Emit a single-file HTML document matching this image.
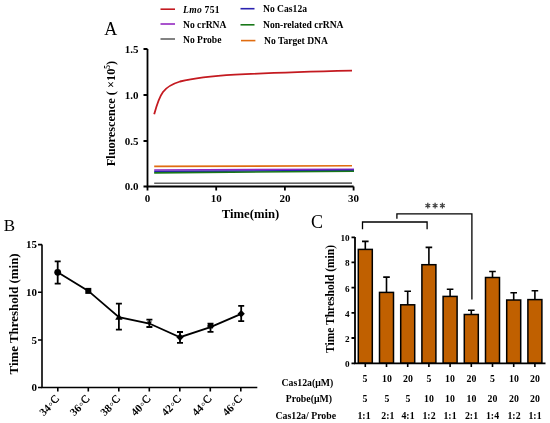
<!DOCTYPE html>
<html><head><meta charset="utf-8">
<style>
html,body{margin:0;padding:0;background:#fff;width:550px;height:423px;overflow:hidden}
svg{display:block;filter:blur(0.3px);font-family:"Liberation Serif",serif}
.b{font-weight:bold}
</style></head><body>
<svg width="550" height="423" viewBox="0 0 550 423">
<!-- ===== Panel A ===== -->
<text x="104.3" y="34.6" font-size="18">A</text>
<!-- legend -->
<g stroke-width="1.6" fill="none">
<line x1="160.5" y1="9.2" x2="175" y2="9.2" stroke="#c41a20"/>
<line x1="160.5" y1="24" x2="175" y2="24" stroke="#9428c0"/>
<line x1="160.5" y1="39" x2="175" y2="39" stroke="#626262"/>
<line x1="240.5" y1="8.7" x2="254.5" y2="8.7" stroke="#2a22b0"/>
<line x1="240.5" y1="24.8" x2="254.5" y2="24.8" stroke="#187818"/>
<line x1="241" y1="40.6" x2="255.4" y2="40.6" stroke="#e06c10"/>
</g>
<g class="b" font-size="9.6">
<text x="183" y="13"><tspan font-style="italic" letter-spacing="0.35">Lmo</tspan> <tspan letter-spacing="0.3">751</tspan></text>
<text x="183" y="27.8">No crRNA</text>
<text x="183" y="42.8">No Probe</text>
<text x="263" y="12.4">No Cas12a</text>
<text x="263" y="28.2">Non-related crRNA</text>
<text x="264" y="44.2">No Target DNA</text>
</g>
<!-- axes A -->
<g stroke="#000" stroke-width="1.8" fill="none">
<path d="M147.5 49 V186.5 H353.6"/>
<path d="M143.5 49 H147.5 M143.5 95 H147.5 M143.5 141 H147.5 M143.5 186.5 H147.5"/>
<path d="M147.5 186.5 V190.5 M216.2 186.5 V190.5 M284.9 186.5 V190.5 M353.6 186.5 V190.5"/>
</g>
<g class="b" font-size="11" text-anchor="end">
<text x="138.5" y="52.5">1.5</text>
<text x="138.5" y="98.5">1.0</text>
<text x="138.5" y="144.5">0.5</text>
<text x="138.5" y="190">0.0</text>
</g>
<g class="b" font-size="11" text-anchor="middle">
<text x="147.5" y="201.5">0</text>
<text x="216.2" y="201.5">10</text>
<text x="284.9" y="201.5">20</text>
<text x="353.6" y="201.5">30</text>
</g>
<text class="b" x="250.5" y="217.8" font-size="12.7" text-anchor="middle">Time(min)</text>
<text class="b" font-size="12.3" transform="translate(115.4 166.3) rotate(-90)">Fluorescence ( ×10<tspan dy="-5" font-size="7.5">5</tspan><tspan dy="5">)</tspan></text>
<!-- data lines A -->
<g fill="none" stroke-width="1.6">
<line x1="154.2" y1="166.4" x2="352" y2="165.8" stroke="#e06c10"/>
<line x1="154.2" y1="170" x2="354" y2="169.3" stroke="#9428c0"/>
<line x1="154.2" y1="171.6" x2="354" y2="170.3" stroke="#2a22b0"/>
<line x1="154.2" y1="172.9" x2="354" y2="171.2" stroke="#187818"/>
<line x1="154.2" y1="183.3" x2="352" y2="183.1" stroke="#626262"/>
<path d="M154.2 114.3 C157 104 160 96 163 92 C167 86.5 172 84 180 81.5 C195 78 215 76 235 74.7 C270 72.8 310 71.6 352 70.6" stroke="#c41a20" stroke-width="1.8"/>
</g>

<!-- ===== Panel B ===== -->
<text x="3.8" y="230.8" font-size="17">B</text>
<g stroke="#000" stroke-width="1.6" fill="none">
<path d="M42 244.6 V387.5 H257.3"/>
<path d="M38 244.6 H42 M38 292.3 H42 M38 340 H42 M38 387.5 H42"/>
<path d="M57.8 387.5 V391.5 M88.3 387.5 V391.5 M118.8 387.5 V391.5 M149.3 387.5 V391.5 M179.8 387.5 V391.5 M210.3 387.5 V391.5 M240.8 387.5 V391.5"/>
</g>
<g class="b" font-size="11" text-anchor="end">
<text x="37" y="248.2">15</text>
<text x="37" y="296">10</text>
<text x="37" y="343.8">5</text>
<text x="37" y="391.4">0</text>
</g>
<text class="b" font-size="12.9" transform="translate(18 374.4) rotate(-90)">Time Threshold (min)</text>
<g class="b" font-size="11" text-anchor="end">
<text transform="translate(60.4 400) rotate(-45)">34<tspan font-weight="normal" font-size="12" dx="0.6" dy="-0.3">◦</tspan><tspan font-weight="normal" dx="0.3" dy="-0.7" stroke="#000" stroke-width="0.35">C</tspan></text>
<text transform="translate(90.9 400) rotate(-45)">36<tspan font-weight="normal" font-size="12" dx="0.6" dy="-0.3">◦</tspan><tspan font-weight="normal" dx="0.3" dy="-0.7" stroke="#000" stroke-width="0.35">C</tspan></text>
<text transform="translate(121.4 400) rotate(-45)">38<tspan font-weight="normal" font-size="12" dx="0.6" dy="-0.3">◦</tspan><tspan font-weight="normal" dx="0.3" dy="-0.7" stroke="#000" stroke-width="0.35">C</tspan></text>
<text transform="translate(151.9 400) rotate(-45)">40<tspan font-weight="normal" font-size="12" dx="0.6" dy="-0.3">◦</tspan><tspan font-weight="normal" dx="0.3" dy="-0.7" stroke="#000" stroke-width="0.35">C</tspan></text>
<text transform="translate(182.4 400) rotate(-45)">42<tspan font-weight="normal" font-size="12" dx="0.6" dy="-0.3">◦</tspan><tspan font-weight="normal" dx="0.3" dy="-0.7" stroke="#000" stroke-width="0.35">C</tspan></text>
<text transform="translate(212.9 400) rotate(-45)">44<tspan font-weight="normal" font-size="12" dx="0.6" dy="-0.3">◦</tspan><tspan font-weight="normal" dx="0.3" dy="-0.7" stroke="#000" stroke-width="0.35">C</tspan></text>
<text transform="translate(243.4 400) rotate(-45)">46<tspan font-weight="normal" font-size="12" dx="0.6" dy="-0.3">◦</tspan><tspan font-weight="normal" dx="0.3" dy="-0.7" stroke="#000" stroke-width="0.35">C</tspan></text>
</g>
<!-- data B -->
<g stroke="#000" stroke-width="1.8" fill="none">
<polyline points="57.7,272.3 88.3,290.9 118.9,317.2 149.4,323.5 180,337.2 210.5,327.1 241.2,313.8"/>
<path d="M57.7 261.3 V283.6 M54.7 261.3 H60.7 M54.7 283.6 H60.7"/>
<path d="M118.9 303.6 V329.6 M115.9 303.6 H121.9 M115.9 329.6 H121.9"/>
<path d="M149.4 319.7 V327 M146.4 319.7 H152.4 M146.4 327 H152.4"/>
<path d="M180 332 V342.8 M177 332 H183 M177 342.8 H183"/>
<path d="M210.5 323.6 V331.8 M207.5 323.6 H213.5 M207.5 331.8 H213.5"/>
<path d="M241.2 305.9 V321.2 M238.2 305.9 H244.2 M238.2 321.2 H244.2"/>
</g>
<g fill="#000">
<circle cx="57.7" cy="272.3" r="3.4"/>
<rect x="85.3" y="287.9" width="6" height="6"/>
<path d="M118.9 313.6 L122.6 319.8 L115.2 319.8Z"/>
<path d="M149.4 325.8 L151.9 321.6 L146.9 321.6Z"/>
<path d="M180 333.4 L183.6 337.2 L180 341 L176.4 337.2Z"/>
<path d="M207.2 326 L208.4 323.4 L212.8 323.4 L214 326 L212.8 328.5 L208.4 328.5Z"/>
<path d="M241.2 310 L244.8 313.8 L241.2 317.6 L237.6 313.8Z"/>
</g>

<!-- ===== Panel C ===== -->
<text x="311" y="227.6" font-size="18">C</text>
<g stroke="#000" stroke-width="1.3" fill="none">
<path d="M362.5 229.3 V222 H427.1 V229.3"/>
<path d="M396.9 218.8 V213.9 H471.9 V299.4"/>
</g>
<g stroke="#444" stroke-width="1.3" fill="none">
<path id="ast" d="M427.8 202.8 V208.4 M425.4 204.2 L430.2 207 M425.4 207 L430.2 204.2"/>
<path d="M435.1 202.8 V208.4 M432.7 204.2 L437.5 207 M432.7 207 L437.5 204.2"/>
<path d="M442.4 202.8 V208.4 M440 204.2 L444.8 207 M440 207 L444.8 204.2"/>
</g>
<g stroke="#000" stroke-width="1.8" fill="none">
<path d="M355 237.1 V363.4 H545.5"/>
<path d="M351.5 237.3 H355 M351.5 262.4 H355 M351.5 287.6 H355 M351.5 312.8 H355 M351.5 338 H355 M351.5 363.4 H355"/>
</g>
<g class="b" font-size="9.2" text-anchor="end">
<text x="349.6" y="240.9">10</text>
<text x="349.6" y="266.3">8</text>
<text x="349.6" y="291.6">6</text>
<text x="349.6" y="316.8">4</text>
<text x="349.6" y="342">2</text>
<text x="349.6" y="367">0</text>
</g>
<text class="b" font-size="11.5" transform="translate(334 353) rotate(-90)">Time Threshold (min)</text>
<!-- bars -->
<g fill="#c06000" stroke="#000" stroke-width="1.5">
<rect x="358.3" y="249.4" width="14" height="113.6"/>
<rect x="379.5" y="292.4" width="14" height="70.6"/>
<rect x="400.7" y="304.8" width="14" height="58.2"/>
<rect x="421.9" y="264.7" width="14" height="98.3"/>
<rect x="443.1" y="296.4" width="14" height="66.6"/>
<rect x="464.3" y="314.5" width="14" height="48.5"/>
<rect x="485.5" y="277.5" width="14" height="85.5"/>
<rect x="506.7" y="300" width="14" height="63"/>
<rect x="527.9" y="299.6" width="14" height="63.4"/>
</g>
<g stroke="#000" stroke-width="1.6" fill="none">
<path d="M365.3 249.4 V241.4 M362 241.4 H368.6"/>
<path d="M386.5 292.4 V277.1 M383.2 277.1 H389.8"/>
<path d="M407.7 304.8 V291.2 M404.4 291.2 H411"/>
<path d="M428.9 264.7 V247.4 M425.6 247.4 H432.2"/>
<path d="M450.1 296.4 V289.2 M446.8 289.2 H453.4"/>
<path d="M471.3 314.5 V310.3 M468 310.3 H474.6"/>
<path d="M492.5 277.5 V271.5 M489.2 271.5 H495.8"/>
<path d="M513.7 300 V292.8 M510.4 292.8 H517"/>
<path d="M534.9 299.6 V290.8 M531.6 290.8 H538.2"/>
<path d="M365.3 363 V367 M386.5 363 V367 M407.7 363 V367 M428.9 363 V367 M450.1 363 V367 M471.3 363 V367 M492.5 363 V367 M513.7 363 V367 M534.9 363 V367"/>
</g>
<!-- table -->
<g class="b" font-size="9.8">
<text x="281.5" y="385.8">Cas12a(μM)</text>
<text x="285.8" y="402.3">Probe(μM)</text>
<text x="275.5" y="419.2">Cas12a/ Probe</text>
</g>
<g class="b" font-size="9.8" text-anchor="middle">
<text x="365" y="382">5</text><text x="387" y="382">10</text><text x="408" y="382">20</text><text x="429" y="382">5</text><text x="450" y="382">10</text><text x="471.5" y="382">20</text><text x="492.5" y="382">5</text><text x="514" y="382">10</text><text x="535" y="382">20</text>
<text x="365" y="402.3">5</text><text x="387" y="402.3">5</text><text x="408" y="402.3">5</text><text x="429" y="402.3">10</text><text x="450" y="402.3">10</text><text x="471.5" y="402.3">10</text><text x="492.5" y="402.3">20</text><text x="514" y="402.3">20</text><text x="535" y="402.3">20</text>
<text x="364" y="419.2">1:1</text><text x="387.8" y="419.2">2:1</text><text x="408" y="419.2">4:1</text><text x="429" y="419.2">1:2</text><text x="450" y="419.2">1:1</text><text x="471.5" y="419.2">2:1</text><text x="492.5" y="419.2">1:4</text><text x="514" y="419.2">1:2</text><text x="535" y="419.2">1:1</text>
</g>
</svg>
</body></html>
